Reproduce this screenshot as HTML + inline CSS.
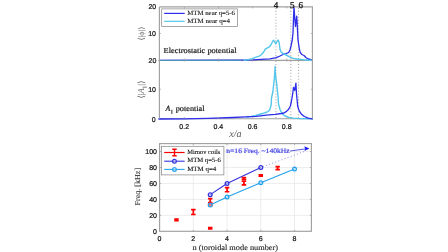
<!DOCTYPE html>
<html><head><meta charset="utf-8"><title>MTM figure</title>
<style>html,body{margin:0;padding:0;background:#fff;overflow:hidden}svg{display:block}.s{font-family:"Liberation Serif", serif;fill:#111;stroke:#111;stroke-width:0.18px}.t{font-family:"Liberation Sans", sans-serif;fill:#161616;font-size:7.0px;stroke:#161616;stroke-width:0.22px}</style>
</head><body>
<svg width="448" height="252" viewBox="0 0 448 252" text-rendering="geometricPrecision">
<defs><filter id="soft" x="0" y="0" width="448" height="252" filterUnits="userSpaceOnUse"><feGaussianBlur stdDeviation="0.32"/></filter></defs>
<rect width="448" height="252" fill="#fff"/>
<g filter="url(#soft)">
<line x1="275.9" y1="7.9" x2="275.9" y2="118.5" stroke="#adadad" stroke-width="1.1" stroke-dasharray="1.05 1.9"/>
<line x1="290.8" y1="7.9" x2="290.8" y2="118.5" stroke="#adadad" stroke-width="1.1" stroke-dasharray="1.05 1.9"/>
<line x1="298.5" y1="7.9" x2="298.5" y2="118.5" stroke="#adadad" stroke-width="1.1" stroke-dasharray="1.05 1.9"/>
<path d="M159.4 60.4H312.4 M159.4 118.7H312.4" fill="none" stroke="#a0a0a0" stroke-width="1.1"/>
<polyline fill="none" stroke="#2e2eea" stroke-width="1.3" stroke-linejoin="round" stroke-linecap="round"  points="159.40,60.40 235.00,60.20 252.50,59.80 270.00,58.90 276.25,57.60 280.00,56.00 284.00,54.00 285.90,53.60 287.60,53.00 288.75,52.30 290.00,50.00 291.00,46.00 292.25,40.00 293.00,33.00 293.50,18.00 293.80,11.00 294.00,7.00 294.30,11.50 294.80,19.00 295.50,26.50 296.10,21.00 296.70,16.10 297.00,20.00 297.40,28.00 297.80,36.00 298.00,40.00 298.90,46.00 299.55,50.00 300.20,52.40 301.80,54.50 304.00,55.50 305.90,57.50 308.10,59.00 312.40,60.00"/>
<line x1="158.6" y1="60.45" x2="241" y2="60.3" stroke="#4a94bc" stroke-width="1.15"/>
<polyline fill="none" stroke="#54c6ea" stroke-width="1.4" stroke-linejoin="round" stroke-linecap="round"  points="244.00,60.30 248.00,59.60 252.25,58.70 255.40,57.40 259.20,56.20 261.80,54.25 263.50,52.00 264.30,51.10 265.40,48.90 266.60,48.30 268.50,47.40 270.10,45.90 271.75,43.30 272.60,41.50 273.30,40.30 273.90,40.80 274.50,41.70 275.75,43.90 276.50,42.50 277.10,41.40 278.10,40.10 278.60,40.90 279.05,42.30 279.40,45.00 280.05,49.20 281.00,51.70 282.60,53.30 284.50,54.25 287.05,55.50 290.20,57.10 293.40,58.40 296.70,59.00 303.00,59.60 308.00,60.20 312.40,60.30"/>
<polyline fill="none" stroke="#54c6ea" stroke-width="1.4" stroke-linejoin="round" stroke-linecap="round"  points="247.00,116.95 251.00,116.40 256.00,115.40 259.80,114.20 263.60,113.20 266.80,112.25 268.70,111.00 270.00,109.10 270.70,106.50 271.25,104.00 271.50,98.00 272.80,92.00 273.75,84.00 274.40,78.00 274.85,72.00 275.05,66.40 275.30,72.00 275.90,78.00 276.70,84.00 277.55,92.00 278.20,98.00 278.50,104.00 279.20,106.50 280.10,109.70 281.40,112.25 282.70,114.20 284.00,115.30 286.50,116.50 289.10,117.40 293.50,118.10 299.90,118.60 312.40,118.80"/>
<polyline fill="none" stroke="#2e2eea" stroke-width="1.3" stroke-linejoin="round" stroke-linecap="round"  points="158.80,119.00 185.00,118.80 208.00,118.30 233.00,117.50 245.50,116.90 256.00,116.30 262.35,115.55 268.70,114.90 275.05,114.30 281.40,113.50 284.00,113.00 286.50,111.40 288.40,109.50 289.70,107.30 290.35,106.00 291.30,102.00 292.25,96.50 292.90,92.50 293.20,89.50 293.50,87.30 294.10,88.60 294.80,90.50 295.30,87.00 295.90,83.20 296.20,88.00 296.50,94.00 297.30,102.00 297.65,106.00 298.60,109.20 299.90,112.00 301.80,114.60 304.30,116.50 308.10,118.10 312.40,118.90"/>
<path d="M159.4 6.9H312.4V118.5 M159.4 6.9V118.5" fill="none" stroke="#a0a0a0" stroke-width="1.15"/>
<path d="M184.3 6.9v1.5 M184.3 60.1v-1.5" stroke="#a0a0a0" stroke-width="0.8" fill="none"/>
<path d="M218.5 6.9v1.5 M218.5 60.1v-1.5" stroke="#a0a0a0" stroke-width="0.8" fill="none"/>
<path d="M252.6 6.9v1.5 M252.6 60.1v-1.5" stroke="#a0a0a0" stroke-width="0.8" fill="none"/>
<path d="M286.8 6.9v1.5 M286.8 60.1v-1.5" stroke="#a0a0a0" stroke-width="0.8" fill="none"/>
<path d="M184.3 60.1v1.5 M184.3 118.5v-1.5" stroke="#a0a0a0" stroke-width="0.8" fill="none"/>
<path d="M218.5 60.1v1.5 M218.5 118.5v-1.5" stroke="#a0a0a0" stroke-width="0.8" fill="none"/>
<path d="M252.6 60.1v1.5 M252.6 118.5v-1.5" stroke="#a0a0a0" stroke-width="0.8" fill="none"/>
<path d="M286.8 60.1v1.5 M286.8 118.5v-1.5" stroke="#a0a0a0" stroke-width="0.8" fill="none"/>
<path d="M159.4 33.5h1.5 M312.4 33.5h-1.5" stroke="#a0a0a0" stroke-width="0.8" fill="none"/>
<path d="M159.4 89.2h1.5 M312.4 89.2h-1.5" stroke="#a0a0a0" stroke-width="0.8" fill="none"/>
<rect x="161.7" y="8.9" width="75.9" height="17.5" fill="#fff" stroke="#828282" stroke-width="0.7"/>
<line x1="164.2" y1="13.4" x2="184.7" y2="13.4" stroke="#2e2eea" stroke-width="1.2"/>
<line x1="164.2" y1="21.3" x2="184.7" y2="21.3" stroke="#54c6ea" stroke-width="1.2"/>
<text class="s" x="187.2" y="15.2" font-size="6.5" style="stroke-width:0.1px" textLength="47.8" lengthAdjust="spacingAndGlyphs">MTM near q=5-6</text>
<text class="s" x="187.2" y="22.9" font-size="6.5" style="stroke-width:0.1px" textLength="42.8" lengthAdjust="spacingAndGlyphs">MTM near q=4</text>
<text class="s" x="275.9" y="7.5" font-size="9.0" text-anchor="middle" style="stroke:#111;stroke-width:0.3px;fill:#111">4</text>
<text class="s" x="292.3" y="7.5" font-size="9.0" text-anchor="middle" style="stroke:#111;stroke-width:0.3px;fill:#111">5</text>
<text class="s" x="300.7" y="7.5" font-size="9.0" text-anchor="middle" style="stroke:#111;stroke-width:0.3px;fill:#111">6</text>
<text class="s" x="163.6" y="53.2" font-size="7.7" textLength="73" lengthAdjust="spacingAndGlyphs">Electrostatic potential</text>
<text class="s" x="165.4" y="111.4" font-size="7.8" font-style="italic">A</text>
<text class="s" x="170.8" y="113.1" font-size="4.0" style="stroke-width:0.1px">∥</text>
<text class="s" x="175.7" y="111.4" font-size="7.7" textLength="28.9" lengthAdjust="spacingAndGlyphs">potential</text>
<text class="t" x="156.2" y="9.2" text-anchor="end">20</text>
<text class="t" x="156.0" y="36.1" text-anchor="end">10</text>
<text class="t" x="156.3" y="62.9" text-anchor="end">20</text>
<text class="t" x="156.0" y="92.3" text-anchor="end">10</text>
<text class="t" x="155.6" y="122.0" text-anchor="end">0</text>
<text class="t" x="184.20000000000002" y="128.9" text-anchor="middle">0.2</text>
<text class="t" x="218.4" y="128.9" text-anchor="middle">0.4</text>
<text class="t" x="252.5" y="128.9" text-anchor="middle">0.6</text>
<text class="t" x="286.7" y="128.9" text-anchor="middle">0.8</text>
<text class="s" transform="translate(143.8 33.5) rotate(-90)" font-size="8.2" text-anchor="middle" style="fill:#5c5c5c;stroke:none">⟨|ϕ|⟩</text>
<text class="s" transform="translate(144.3 89.6) rotate(-90)" font-size="8.8" text-anchor="middle" style="fill:#5c5c5c;stroke:none">⟨|<tspan font-style="italic">A</tspan><tspan font-size="4.4" dy="1.4">∥</tspan><tspan dy="-1.4">|⟩</tspan></text>
<text class="s" x="229.3" y="137.0" font-size="10.4" font-style="italic" textLength="12.4" lengthAdjust="spacingAndGlyphs" style="fill:#5a5a5a;stroke:none">x/a</text>
<line x1="193.33" y1="143.6" x2="193.33" y2="231.3" stroke="#e5e5e5" stroke-width="0.7"/>
<line x1="227.07" y1="143.6" x2="227.07" y2="231.3" stroke="#e5e5e5" stroke-width="0.7"/>
<line x1="260.80" y1="143.6" x2="260.80" y2="231.3" stroke="#e5e5e5" stroke-width="0.7"/>
<line x1="294.53" y1="143.6" x2="294.53" y2="231.3" stroke="#e5e5e5" stroke-width="0.7"/>
<line x1="159.6" y1="215.35" x2="311.4" y2="215.35" stroke="#e5e5e5" stroke-width="0.7"/>
<line x1="159.6" y1="199.41" x2="311.4" y2="199.41" stroke="#e5e5e5" stroke-width="0.7"/>
<line x1="159.6" y1="183.46" x2="311.4" y2="183.46" stroke="#e5e5e5" stroke-width="0.7"/>
<line x1="159.6" y1="167.52" x2="311.4" y2="167.52" stroke="#e5e5e5" stroke-width="0.7"/>
<line x1="159.6" y1="151.57" x2="311.4" y2="151.57" stroke="#e5e5e5" stroke-width="0.7"/>
<line x1="262.80" y1="166.72" x2="305.2" y2="151.2" stroke="#3232dc" stroke-width="0.85" stroke-opacity="0.65" stroke-dasharray="1 2.3"/>
<line x1="290" y1="151" x2="305.5" y2="148.9" stroke="#3232dc" stroke-width="0.8"/>
<path d="M309.4 148.4L304.2 146.3L305.3 148.7L304.4 151.1Z" fill="#1414f0"/>
<text x="226.3" y="152.6" font-size="6.9" textLength="63.3" lengthAdjust="spacingAndGlyphs" style="font-family:'Liberation Serif', serif;fill:#3434e8;stroke:#3434e8;stroke-width:0.15px">n=16 Freq. ~140kHz</text>
<polyline fill="none" stroke="#25a2ec" stroke-width="1.1" stroke-linejoin="round" stroke-linecap="round"  points="210.20,204.99 227.07,197.02 260.80,182.67 294.53,169.11"/>
<polyline fill="none" stroke="#3232dc" stroke-width="1.1" stroke-linejoin="round" stroke-linecap="round"  points="210.20,194.63 227.07,183.46 260.80,167.52"/>
<path d="M176.47 219.18V220.62 M174.22 219.18h4.50 M174.22 220.62h4.50" stroke="#ff0000" stroke-width="1.7" fill="none"/>
<path d="M193.33 209.53V214.48 M191.08 209.53h4.50 M191.08 214.48h4.50" stroke="#ff0000" stroke-width="1.7" fill="none"/>
<path d="M210.20 227.55V228.99 M207.95 227.55h4.50 M207.95 228.99h4.50" stroke="#ff0000" stroke-width="1.7" fill="none"/>
<path d="M210.20 198.61V202.60 M207.95 198.61h4.50 M207.95 202.60h4.50" stroke="#ff0000" stroke-width="1.7" fill="none"/>
<path d="M210.20 204.27V205.71 M207.95 204.27h4.50 M207.95 205.71h4.50" stroke="#ff0000" stroke-width="1.7" fill="none"/>
<path d="M227.07 187.61V191.76 M224.82 187.61h4.50 M224.82 191.76h4.50" stroke="#ff0000" stroke-width="1.7" fill="none"/>
<path d="M243.93 177.72V179.64 M241.68 177.72h4.50 M241.68 179.64h4.50" stroke="#ff0000" stroke-width="1.7" fill="none"/>
<path d="M243.93 181.23V184.90 M241.68 181.23h4.50 M241.68 184.90h4.50" stroke="#ff0000" stroke-width="1.7" fill="none"/>
<path d="M260.80 174.77V176.05 M258.55 174.77h4.50 M258.55 176.05h4.50" stroke="#ff0000" stroke-width="1.7" fill="none"/>
<path d="M277.67 166.72V169.59 M275.42 166.72h4.50 M275.42 169.59h4.50" stroke="#ff0000" stroke-width="1.7" fill="none"/>
<circle cx="210.20" cy="204.99" r="1.85" fill="#fff" fill-opacity="0.45" stroke="#25a2ec" stroke-width="1.3"/>
<circle cx="227.07" cy="197.02" r="1.85" fill="#fff" fill-opacity="0.45" stroke="#25a2ec" stroke-width="1.3"/>
<circle cx="260.80" cy="182.67" r="1.85" fill="#fff" fill-opacity="0.45" stroke="#25a2ec" stroke-width="1.3"/>
<circle cx="294.53" cy="169.11" r="1.85" fill="#fff" fill-opacity="0.45" stroke="#25a2ec" stroke-width="1.3"/>
<circle cx="210.20" cy="194.63" r="1.85" fill="#fff" fill-opacity="0.45" stroke="#3232dc" stroke-width="1.3"/>
<circle cx="227.07" cy="183.46" r="1.85" fill="#fff" fill-opacity="0.45" stroke="#3232dc" stroke-width="1.3"/>
<circle cx="260.80" cy="167.52" r="1.85" fill="#fff" fill-opacity="0.45" stroke="#3232dc" stroke-width="1.3"/>
<rect x="159.6" y="143.6" width="151.79999999999998" height="87.70000000000002" fill="none" stroke="#a0a0a0" stroke-width="1.15"/>
<path d="M193.33333333333331 143.6v1.5 M193.33333333333331 231.3v-1.5" stroke="#a0a0a0" stroke-width="0.8" fill="none"/>
<path d="M227.06666666666666 143.6v1.5 M227.06666666666666 231.3v-1.5" stroke="#a0a0a0" stroke-width="0.8" fill="none"/>
<path d="M260.79999999999995 143.6v1.5 M260.79999999999995 231.3v-1.5" stroke="#a0a0a0" stroke-width="0.8" fill="none"/>
<path d="M294.5333333333333 143.6v1.5 M294.5333333333333 231.3v-1.5" stroke="#a0a0a0" stroke-width="0.8" fill="none"/>
<path d="M159.6 215.35454545454547h1.5 M311.4 215.35454545454547h-1.5" stroke="#a0a0a0" stroke-width="0.8" fill="none"/>
<path d="M159.6 199.4090909090909h1.5 M311.4 199.4090909090909h-1.5" stroke="#a0a0a0" stroke-width="0.8" fill="none"/>
<path d="M159.6 183.46363636363637h1.5 M311.4 183.46363636363637h-1.5" stroke="#a0a0a0" stroke-width="0.8" fill="none"/>
<path d="M159.6 167.5181818181818h1.5 M311.4 167.5181818181818h-1.5" stroke="#a0a0a0" stroke-width="0.8" fill="none"/>
<path d="M159.6 151.57272727272726h1.5 M311.4 151.57272727272726h-1.5" stroke="#a0a0a0" stroke-width="0.8" fill="none"/>
<rect x="161.6" y="146.3" width="62.3" height="28.6" fill="#fff" stroke="#828282" stroke-width="0.7"/>
<line x1="164.2" y1="152.5" x2="184.6" y2="152.5" stroke="#ff0000" stroke-width="1.2"/>
<path d="M174.50 149.30V155.70 M172.30 149.30h4.40 M172.30 155.70h4.40" stroke="#ff0000" stroke-width="1.4" fill="none"/>
<line x1="164.2" y1="161.2" x2="184.6" y2="161.2" stroke="#3232dc" stroke-width="1.1"/>
<circle cx="174.50" cy="161.20" r="1.85" fill="#fff" fill-opacity="0.45" stroke="#3232dc" stroke-width="1.3"/>
<line x1="164.2" y1="169.4" x2="184.6" y2="169.4" stroke="#25a2ec" stroke-width="1.1"/>
<circle cx="174.50" cy="169.40" r="1.85" fill="#fff" fill-opacity="0.45" stroke="#25a2ec" stroke-width="1.3"/>
<text class="s" x="187.2" y="153.6" font-size="6.5" style="stroke-width:0.12px" textLength="33.1" lengthAdjust="spacingAndGlyphs">Mirnov coils</text>
<text class="s" x="187.2" y="162.4" font-size="6.5" style="stroke-width:0.12px" textLength="33.7" lengthAdjust="spacingAndGlyphs">MTM q=5-6</text>
<text class="s" x="187.2" y="170.6" font-size="6.5" style="stroke-width:0.12px" textLength="29.1" lengthAdjust="spacingAndGlyphs">MTM q=4</text>
<text class="t" x="157.0" y="234.05" text-anchor="end">0</text>
<text class="t" x="157.0" y="218.10454545454547" text-anchor="end">20</text>
<text class="t" x="157.0" y="202.1590909090909" text-anchor="end">40</text>
<text class="t" x="157.0" y="186.21363636363637" text-anchor="end">60</text>
<text class="t" x="157.0" y="170.2681818181818" text-anchor="end">80</text>
<text class="t" x="157.0" y="154.32272727272726" text-anchor="end">100</text>
<text class="t" x="159.45" y="241.3" text-anchor="middle">0</text>
<text class="t" x="193.1833333333333" y="241.3" text-anchor="middle">2</text>
<text class="t" x="226.91666666666666" y="241.3" text-anchor="middle">4</text>
<text class="t" x="260.65" y="241.3" text-anchor="middle">6</text>
<text class="t" x="294.3833333333333" y="241.3" text-anchor="middle">8</text>
<text class="s" transform="translate(140.0 186.7) rotate(-90)" font-size="7.6" text-anchor="middle" textLength="37.7" lengthAdjust="spacingAndGlyphs" style="fill:#333;stroke:#333;stroke-width:0.1px">Freq. [kHz]</text>
<text class="s" x="192.5" y="249.8" font-size="7.7" textLength="85.5" lengthAdjust="spacingAndGlyphs" style="fill:#222;stroke:#222;stroke-width:0.12px">n (toroidal mode number)</text>
</g></svg></body></html>
